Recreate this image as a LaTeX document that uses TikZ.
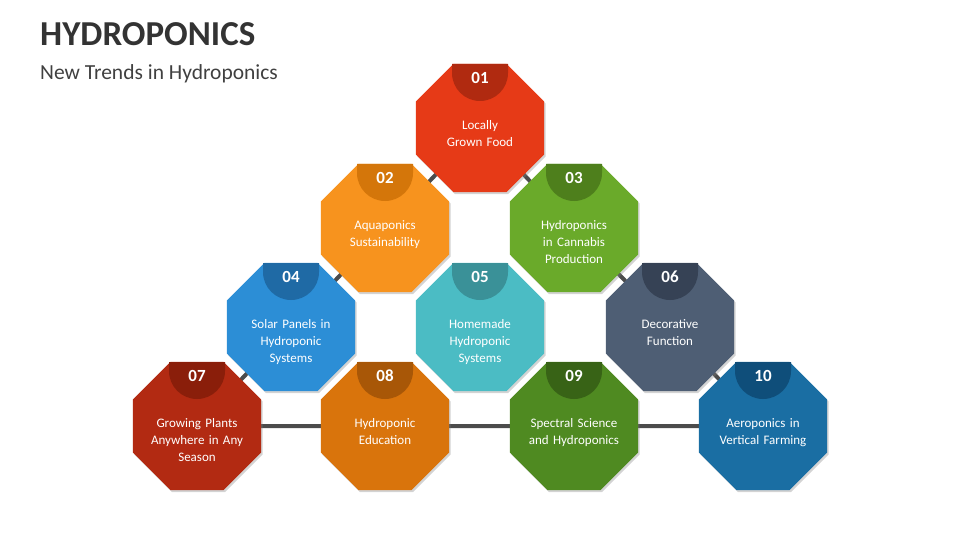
\documentclass[tikz,border=0pt]{standalone}
\usepackage{fontspec}
\setmainfont{Carlito}
\usetikzlibrary{shapes.geometric,shadows,calc}
\begin{document}
\begin{tikzpicture}[x=1pt,y=-1pt,
  oct/.style={regular polygon,regular polygon sides=8,minimum size=138.6pt,inner sep=0pt,draw=none,drop shadow={shadow xshift=1.5pt,shadow yshift=-2pt,opacity=0.35}},
  conn/.style={line width=4pt,draw=black!70},
  num/.style={text=white,font=\fontsize{17}{20}\selectfont\bfseries},
  lab/.style={text=white,font=\fontsize{13}{17}\selectfont,align=center,text width=115pt,anchor=north,inner sep=0pt}]
\useasboundingbox (0,0) rectangle (960,540);
\node[anchor=west,font=\fontsize{35}{40}\selectfont\bfseries,text=black!80,inner sep=0pt] (t) at (40,34) {HYDROPONICS};
\node[anchor=west,font=\fontsize{21.5}{25}\selectfont,text=black!75,inner sep=0pt] (st) at (40,74) {New Trends in Hydroponics};
\coordinate (p1) at (480,128);
\coordinate (p2) at (385,228);
\coordinate (p3) at (574,228);
\coordinate (p4) at (291,327);
\coordinate (p5) at (480,327);
\coordinate (p6) at (670,327);
\coordinate (p7) at (197,426);
\coordinate (p8) at (385,426);
\coordinate (p9) at (574,426);
\coordinate (p10) at (763,426);
\draw[conn] (p1)--(p2) (p1)--(p3) (p2)--(p4) (p3)--(p6) (p4)--(p7) (p6)--(p10) (p7)--(p8)--(p9)--(p10);
\foreach \i/\c/\tc/\n/\t in {
 1/E63A17/B02A10/01/{Locally\\Grown Food},
 2/F7931E/D4760A/02/{Aquaponics\\Sustainability},
 3/6AAA2A/4E7F1C/03/{Hydroponics\\in Cannabis\\Production},
 4/2C8ED6/1F6AA5/04/{Solar Panels in\\Hydroponic\\Systems},
 5/4BBCC4/3A9198/05/{Homemade\\Hydroponic\\Systems},
 6/4E5E74/364255/06/{Decorative\\Function},
 7/B22A12/8A1E0A/07/{Growing Plants\\Anywhere in Any\\Season},
 8/D9740C/A85707/08/{Hydroponic\\Education},
 9/4F8A21/386316/09/{Spectral Science\\and Hydroponics},
 10/1A6EA3/0F4E7A/10/{Aeroponics in\\Vertical Farming}}{
  \definecolor{fc}{HTML}{\c}\definecolor{tcc}{HTML}{\tc}
  \node[oct,fill=fc] (o\i) at (p\i) {};
  \fill[tcc] ($(o\i.center)+(-28,-64)$) -- ++(0,9) arc[start angle=180,end angle=0,radius=28] -- ++(0,-9) -- cycle;
  \node[num] (n\i) at ($(o\i.center)+(0,-50)$) {\n};
  \node[lab] (l\i) at ($(o\i.center)+(0,-8)$) {\t};
}
\end{tikzpicture}
\end{document}
